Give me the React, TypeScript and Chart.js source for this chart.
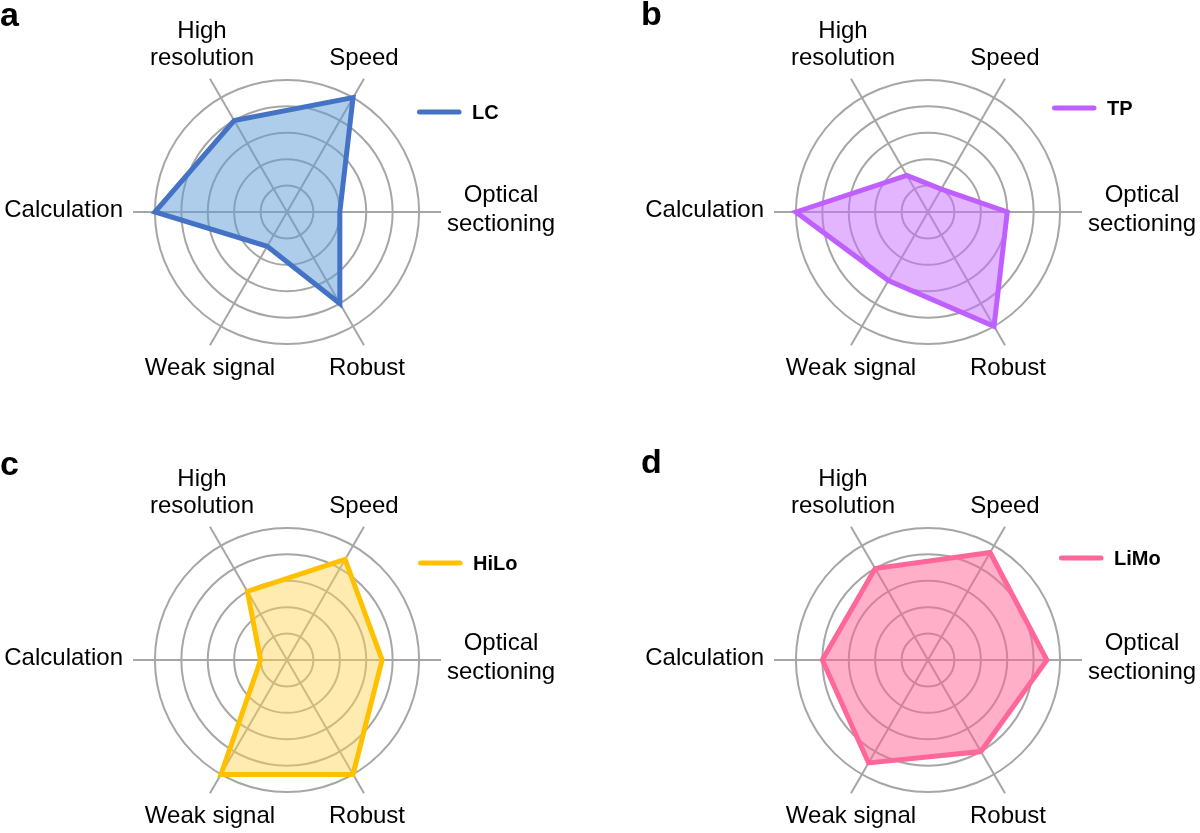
import React, { useEffect, useRef } from "react";
import { Chart, registerables } from "chart.js";

Chart.register(...registerables);

// ---------- data ----------
const axisLabels: string[][] = [
  ["Speed"],
  ["Optical", "sectioning"],
  ["Robust"],
  ["Weak signal"],
  ["Calculation"],
  ["High", "resolution"],
];
const lcValues = [5, 2, 4, 1.5, 5, 4];
const tpValues = [1, 3, 5, 3, 5, 1.6];
const hiloValues = [4.4, 3.6, 5, 5, 1, 3];
const limoValues = [4.7, 4.5, 4, 4.5, 4, 4];
const scaleMin = 0;
const scaleMax = 5.83;
const ringStep = 1;

// ---------- styles ----------
const FONT = '"Liberation Sans", Arial, Helvetica, sans-serif';
const GRID = "#a6a6a6";

type Panel = {
  letter: string;
  name: string;
  values: number[];
  border: string;
  fill: string;
  left: number;
  top: number;
  width: number;
  height: number;
  cx: number;
  cy: number;
  legendDx: number;
  legendDy: number;
  letterX: number;
  letterY: number;
};

const panels: Panel[] = [
  {
    letter: "a", name: "LC", values: lcValues,
    border: "#4472c4", fill: "rgba(91,155,213,0.5)",
    left: 0, top: 0, width: 600, height: 420, cx: 287, cy: 212,
    legendDx: 130, legendDy: -100, letterX: 0, letterY: 26,
  },
  {
    letter: "b", name: "TP", values: tpValues,
    border: "#bf5fff", fill: "rgba(200,105,255,0.5)",
    left: 600, top: 0, width: 600, height: 420, cx: 328, cy: 212,
    legendDx: 124, legendDy: -104, letterX: 41, letterY: 25,
  },
  {
    letter: "c", name: "HiLo", values: hiloValues,
    border: "#ffc000", fill: "rgba(255,210,80,0.45)",
    left: 0, top: 420, width: 600, height: 413, cx: 287, cy: 240,
    legendDx: 131, legendDy: -97, letterX: 0, letterY: 55,
  },
  {
    letter: "d", name: "LiMo", values: limoValues,
    border: "#ff6699", fill: "rgba(255,95,145,0.5)",
    left: 600, top: 420, width: 600, height: 413, cx: 328, cy: 240,
    legendDx: 131, legendDy: -102, letterX: 41, letterY: 53,
  },
];

const decorPlugin = {
  id: "decor",
  afterDraw(chart: any, _args: any, opts: any) {
    const ctx: CanvasRenderingContext2D = chart.ctx;
    const scale = chart.scales.r;
    const outer = scale.getDistanceFromCenterForValue(scale.max);
    ctx.save();
    ctx.fillStyle = "#000";
    ctx.font = `24px ${FONT}`;
    const labels = chart.data.labels as any[];
    labels.forEach((lab, i) => {
      const lines: string[] = Array.isArray(lab) ? lab : [lab];
      const p = scale.getPointPosition(i, outer);
      const c = Math.cos(p.angle);
      const s = Math.sin(p.angle);
      ctx.textAlign = "center";
      if (Math.abs(c) > 0.95) {
        const w = Math.max(...lines.map((l) => ctx.measureText(l).width));
        const x = c > 0 ? p.x + 6 + w / 2 : p.x - 10 - w / 2;
        ctx.textBaseline = "middle";
        lines.forEach((l, j) =>
          ctx.fillText(l, x, p.y - 2 + (j - (lines.length - 1) / 2) * 29)
        );
      } else if (s < 0) {
        ctx.textBaseline = "alphabetic";
        const x = p.x + (c < 0 ? -8 : 0);
        lines.forEach((l, j) =>
          ctx.fillText(l, x, p.y - 14 - (lines.length - 1 - j) * 27)
        );
      } else {
        ctx.textBaseline = "alphabetic";
        const x = p.x + (c > 0 ? 3 : 0);
        lines.forEach((l, j) => ctx.fillText(l, x, p.y + 30 + j * 27));
      }
    });

    // legend
    const ds = chart.data.datasets[0];
    const lx = scale.xCenter + opts.legendDx;
    const ly = scale.yCenter + opts.legendDy;
    ctx.strokeStyle = ds.borderColor;
    ctx.lineWidth = 5;
    ctx.lineCap = "round";
    ctx.beginPath();
    ctx.moveTo(lx + 2.5, ly);
    ctx.lineTo(lx + 42, ly);
    ctx.stroke();
    ctx.font = `bold 20px ${FONT}`;
    ctx.textAlign = "left";
    ctx.textBaseline = "middle";
    ctx.fillStyle = "#000";
    ctx.fillText(ds.label, lx + 55, ly + 1);

    // panel letter
    ctx.font = `bold 34px ${FONT}`;
    ctx.textBaseline = "alphabetic";
    ctx.fillText(opts.letter, opts.letterX, opts.letterY);
    ctx.restore();
  },
};

function RadarPanel({ p }: { p: Panel }) {
  const ref = useRef<HTMLCanvasElement | null>(null);
  useEffect(() => {
    if (!ref.current) return;
    const R = 154;
    const chart = new Chart(ref.current, {
      type: "radar",
      data: {
        labels: axisLabels as any,
        datasets: [
          {
            label: p.name,
            data: p.values,
            borderColor: p.border,
            backgroundColor: p.fill,
            borderWidth: 5,
            fill: true,
            pointRadius: 0,
            pointHoverRadius: 0,
            borderJoinStyle: "miter",
            tension: 0,
          } as any,
        ],
      },
      options: {
        responsive: false,
        animation: false,
        events: [],
        layout: {
          padding: {
            left: p.cx - R,
            top: p.cy - R,
            right: p.width - (p.cx + R),
            bottom: p.height - (p.cy + R),
          },
        },
        plugins: {
          legend: { display: false },
          tooltip: { enabled: false },
          decor: {
            legendDx: p.legendDx,
            legendDy: p.legendDy,
            letter: p.letter,
            letterX: p.letterX,
            letterY: p.letterY,
          },
        } as any,
        scales: {
          r: {
            min: scaleMin,
            max: scaleMax,
            startAngle: 30,
            ticks: { display: false, stepSize: ringStep },
            grid: {
              circular: true,
              lineWidth: 2,
              color: (ctx: any) => {
                const v = ctx.tick ? ctx.tick.value : 0;
                return Number.isInteger(v) && v > 0 ? GRID : "rgba(0,0,0,0)";
              },
            },
            angleLines: { color: GRID, lineWidth: 2 },
            pointLabels: { display: false },
          } as any,
        },
      },
      plugins: [decorPlugin as any],
    });
    return () => chart.destroy();
  }, [p]);
  return (
    <canvas
      ref={ref}
      width={p.width}
      height={p.height}
      style={{ position: "absolute", left: p.left, top: p.top, width: p.width, height: p.height }}
    />
  );
}

export default function App() {
  return (
    <div
      style={{
        position: "absolute",
        left: 0,
        top: 0,
        width: 1200,
        height: 833,
        background: "#fff",
        overflow: "hidden",
      }}
    >
      {panels.map((p) => (
        <RadarPanel key={p.letter} p={p} />
      ))}
    </div>
  );
}
